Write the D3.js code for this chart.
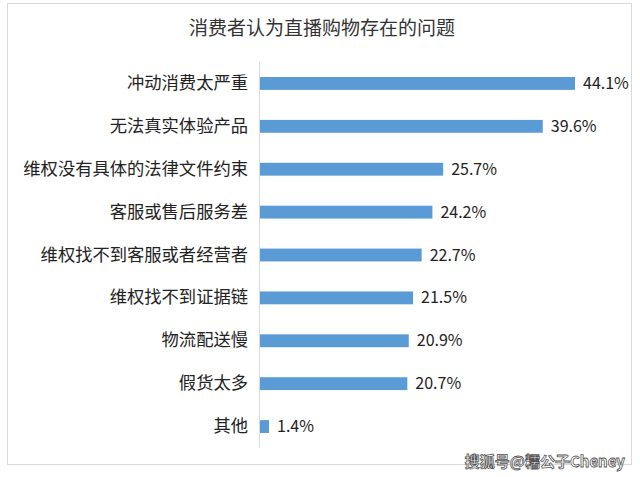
<!DOCTYPE html>
<html>
<head>
<meta charset="utf-8">
<script src="https://cdn.jsdelivr.net/npm/d3@7"></script>
<style>
  body { margin: 0; background: #fff; }
  svg { display: block; font-family: "Noto Sans CJK SC", "Noto Sans", sans-serif; }
</style>
</head>
<body>
<svg width="640" height="477"></svg>
<script>
// chart data
const categories = ['冲动消费太严重', '无法真实体验产品', '维权没有具体的法律文件约束', '客服或售后服务差',
    '维权找不到客服或者经营者', '维权找不到证据链', '物流配送慢', '假货太多', '其他'];
const values = [44.1, 39.6, 25.7, 24.2, 22.7, 21.5, 20.9, 20.7, 1.4];

const svg = d3.select('svg');
const width = +svg.attr('width');
const height = +svg.attr('height');

// outer frame
svg.append('rect')
    .attr('x', 7.5).attr('y', 3.5)
    .attr('width', 624).attr('height', 461)
    .attr('fill', '#fff')
    .attr('stroke', '#d9d9d9');

// title
svg.append('text')
    .attr('x', 322)
    .attr('y', 35)
    .attr('text-anchor', 'middle')
    .style('font-size', '19px')
    .attr('fill', '#333')
    .text('消费者认为直播购物存在的问题');

const margin = { top: 62, left: 259, bottom: 29 };

const x = d3.scaleLinear()
    .domain([0, 44.1])
    .range([margin.left, 575]);

const y = d3.scaleBand()
    .domain(categories)
    .range([margin.top, height - margin.bottom])
    .paddingInner(0.7)
    .paddingOuter(0.35);

const data = categories.map((c, i) => ({ name: c, value: values[i] }));

// bars
svg.selectAll('.bar')
    .data(data)
    .enter().append('rect')
    .attr('class', 'bar')
    .attr('x', x(0))
    .attr('y', d => y(d.name))
    .attr('width', d => x(d.value) - x(0))
    .attr('height', y.bandwidth())
    .attr('fill', '#5b9bd5');

// value labels
svg.selectAll('.bar-label')
    .data(data)
    .enter().append('text')
    .attr('class', 'bar-label')
    .attr('x', d => x(d.value) + 8)
    .attr('y', d => y(d.name) + y.bandwidth() / 2)
    .attr('dy', '0.35em')
    .style('font-size', '16px')
    .attr('fill', '#222')
    .text(d => d.value.toFixed(1) + '%');

// y axis (category labels, no ticks)
const yAxis = svg.append('g')
    .attr('class', 'y-axis')
    .attr('transform', `translate(${margin.left},0)`)
    .call(d3.axisLeft(y).tickSize(0).tickPadding(11));

yAxis.select('.domain').remove();
yAxis.selectAll('text')
    .style('font-size', '17.3px')
    .style('font-family', '"Noto Sans CJK SC", sans-serif')
    .attr('fill', '#222');

svg.append('line')
    .attr('x1', margin.left + 0.5).attr('x2', margin.left + 0.5)
    .attr('y1', margin.top).attr('y2', height - margin.bottom)
    .attr('stroke', '#d9d9d9');

// watermark
svg.append('text')
    .attr('x', 625)
    .attr('y', 467)
    .attr('text-anchor', 'end')
    .style('font-size', '15px')
    .style('font-weight', 'bold')
    .attr('fill', '#fff')
    .attr('stroke', '#555')
    .attr('stroke-width', 0.8)
    .text('搜狐号@糯公子Cheney');
</script>
</body>
</html>
